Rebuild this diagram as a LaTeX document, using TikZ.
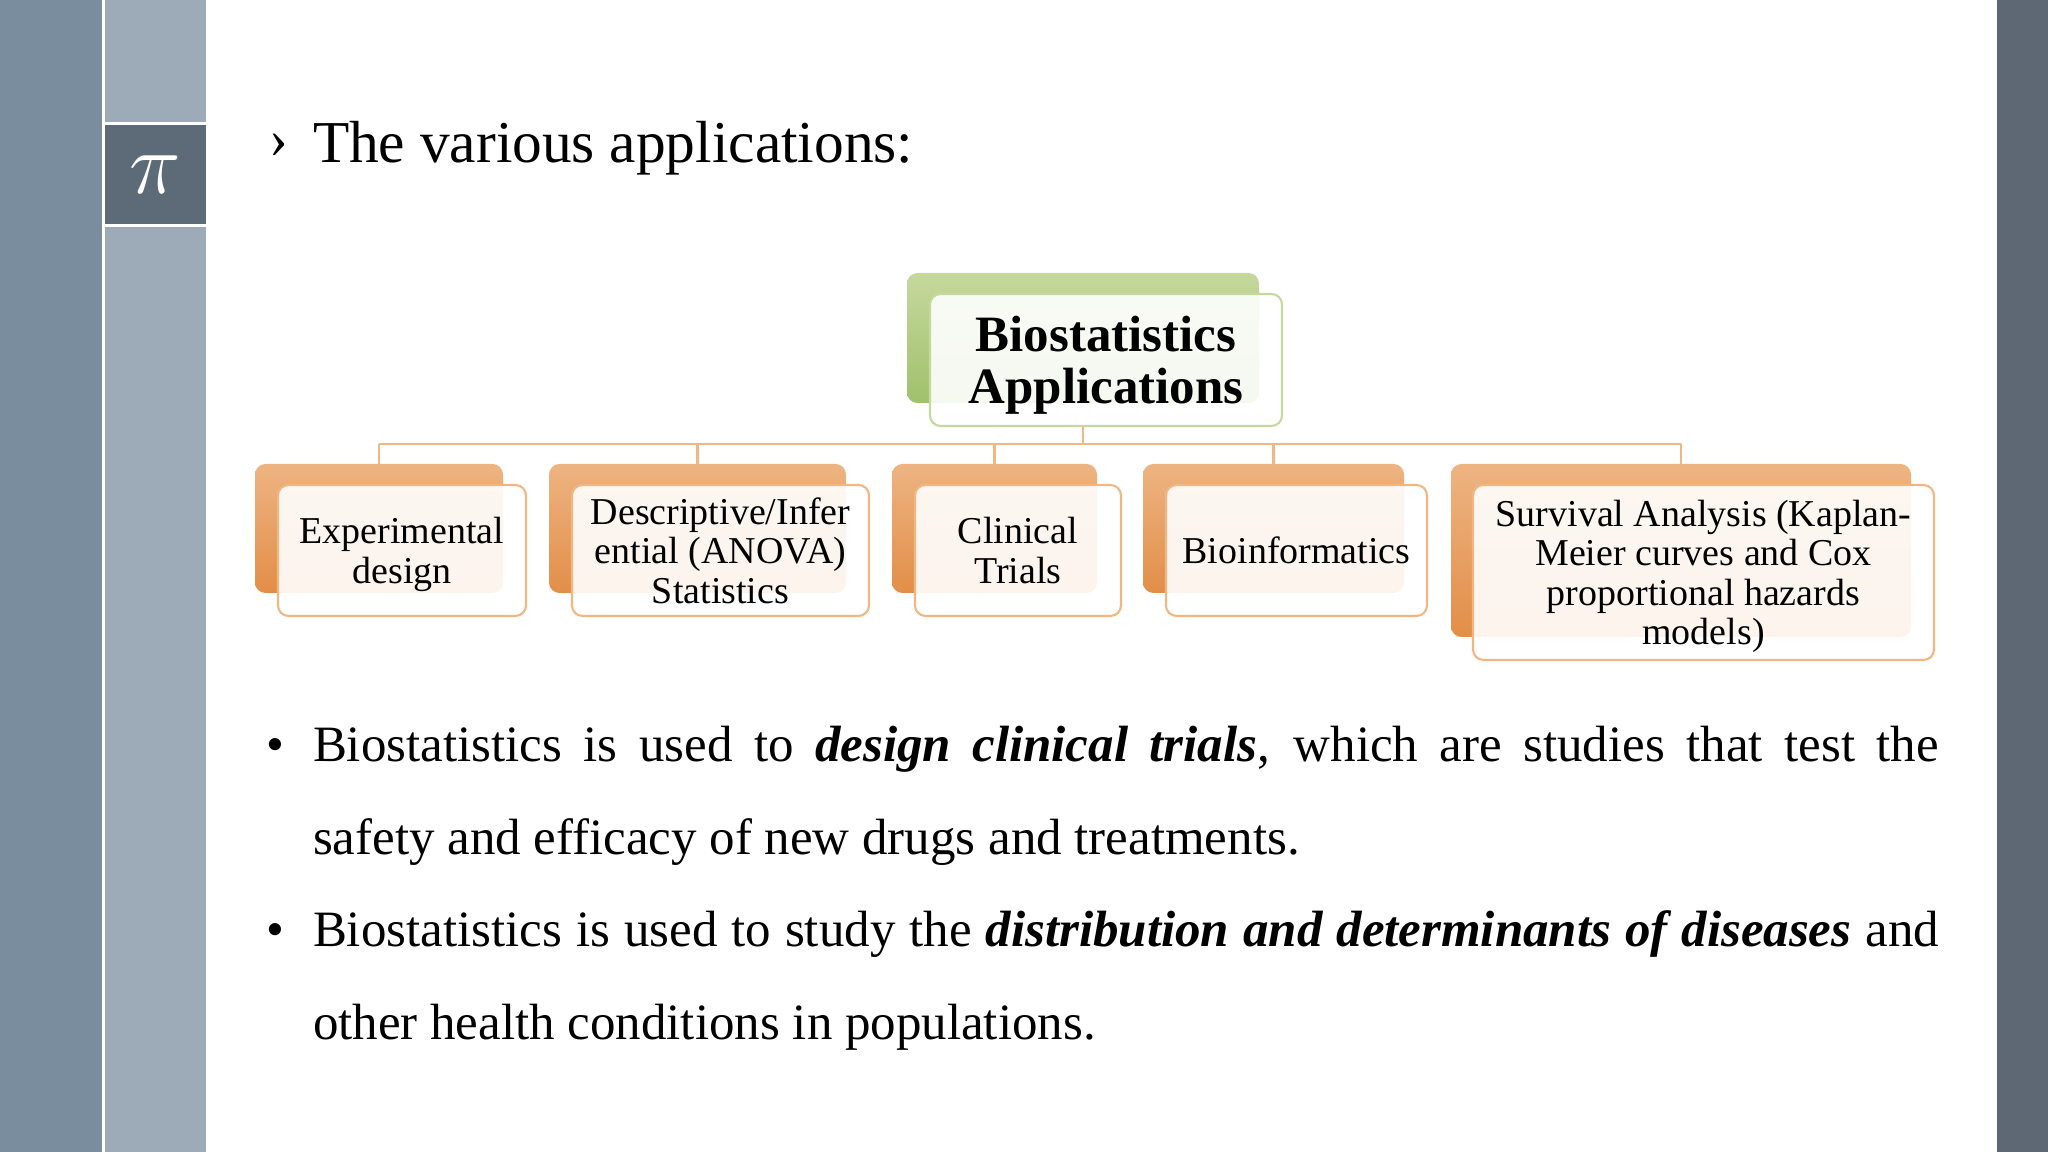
\documentclass[tikz,border=0pt]{standalone}
\usepackage{fontspec}
\setmainfont{Liberation Serif}

\definecolor{sidedark}{RGB}{122,141,158}
\definecolor{sidelight}{RGB}{157,170,183}
\definecolor{pibox}{RGB}{93,107,120}
\definecolor{sideright}{RGB}{93,104,116}
\definecolor{orangetop}{RGB}{237,180,130}
\definecolor{orangebot}{RGB}{226,142,72}
\definecolor{orangeline}{RGB}{241,183,130}
\definecolor{greentop}{RGB}{197,216,157}
\definecolor{greenbot}{RGB}{160,193,108}
\definecolor{greenline}{RGB}{197,216,157}

\begin{document}
\begin{tikzpicture}[
    every node/.style={inner sep=0pt, outer sep=0pt},
    orangeback/.style={rounded corners=3pt, top color=orangetop, bottom color=orangebot},
    greenback/.style={rounded corners=3pt, top color=greentop, bottom color=greenbot},
    whitebox/.style={draw=orangeline, line width=0.6pt, rounded corners=3pt, fill=white,
      fill opacity=0.9, text opacity=1, align=center, text depth=0pt,
      font=\fontsize{10.8}{11.2}\selectfont},
    linkline/.style={draw=orangeline, line width=0.6pt},
    itemtext/.style={anchor=base west, text width=16.26cm, align=justify,
      font=\fontsize{14.5}{26.2}\selectfont,
      execute at begin node={\tolerance=10000\hyphenpenalty=10000}},
    itemdot/.style={anchor=base west, font=\fontsize{14.5}{26.2}\selectfont}]

  % page and side bars
  \path[use as bounding box, fill=white] (0,0) rectangle (20.48,11.52);
  \fill[sidedark] (0,0) rectangle (1.02,11.52);
  \fill[sidelight] (1.05,0) rectangle (2.06,11.52);
  \fill[white] (1.05,9.25) rectangle (2.06,10.30);
  \fill[pibox] (1.05,9.28) rectangle (2.06,10.27);
  \fill[sideright] (19.97,0) rectangle (20.48,11.52);
  \node[text=white, font=\fontsize{32}{32}\selectfont] (pi) at (1.555,9.77) {$\pi$};

  % title
  \node[anchor=base west, font=\fontsize{16}{16}\selectfont] (mark) at (2.69,9.94) {›};
  \node[anchor=base west, font=\fontsize{16.9}{20}\selectfont] (title) at (3.13,9.89) {The various applications:};

  % root box
  \node[greenback, minimum width=3.52cm, minimum height=1.30cm] (appsback) at (10.83,8.14) {};
  \node[whitebox, draw=greenline, minimum width=3.52cm, minimum height=1.32cm,
    font=\fontsize{14.5}{14.8}\selectfont\bfseries] (apps) at (11.06,7.92) {Biostatistics\\Applications};

  % child boxes
  \node[orangeback, minimum width=2.48cm, minimum height=1.29cm] (expback) at (3.79,6.235) {};
  \node[whitebox, minimum width=2.48cm, minimum height=1.31cm] (exp) at (4.02,6.015) {Experimental\\design};

  \node[orangeback, minimum width=2.97cm, minimum height=1.29cm] (descback) at (6.975,6.235) {};
  \node[whitebox, minimum width=2.97cm, minimum height=1.31cm] (desc) at (7.205,6.015) {Descriptive/Infer\\ential (ANOVA)\\Statistics};

  \node[orangeback, minimum width=2.05cm, minimum height=1.29cm] (clinback) at (9.945,6.235) {};
  \node[whitebox, minimum width=2.06cm, minimum height=1.31cm] (clin) at (10.18,6.015) {Clinical\\Trials};

  \node[orangeback, minimum width=2.61cm, minimum height=1.29cm] (bioback) at (12.735,6.235) {};
  \node[whitebox, minimum width=2.61cm, minimum height=1.31cm] (bio) at (12.965,6.015) {Bioinformatics};

  \node[orangeback, minimum width=4.60cm, minimum height=1.73cm] (survback) at (16.81,6.015) {};
  \node[whitebox, minimum width=4.61cm, minimum height=1.75cm] (surv) at (17.035,5.795) {Survival Analysis (Kaplan-\\Meier curves and Cox\\proportional hazards\\models)};

  % connectors
  \coordinate (bus) at (0,7.08);
  \draw[linkline] (appsback |- apps.south) -- (appsback |- bus);
  \draw[linkline] (expback |- bus) -- (survback |- bus);
  \foreach \n in {expback,descback,clinback,bioback,survback}
    \draw[linkline] (\n |- bus) -- (\n.north);

  % bullet points
  \node[itemdot] (dotA) at (2.66,3.90) {•};
  \node[itemtext] (itemA) at (3.13,3.90) {Biostatistics is used to \textbf{\textit{design clinical trials}}, which are studies that test the\linebreak safety and efficacy of new drugs and treatments.};
  \node[itemdot] (dotB) at (2.66,2.05) {•};
  \node[itemtext] (itemB) at (3.13,2.05) {Biostatistics is used to study the \textbf{\textit{distribution and determinants of diseases}} and\linebreak other health conditions in populations.};
\end{tikzpicture}
\end{document}
